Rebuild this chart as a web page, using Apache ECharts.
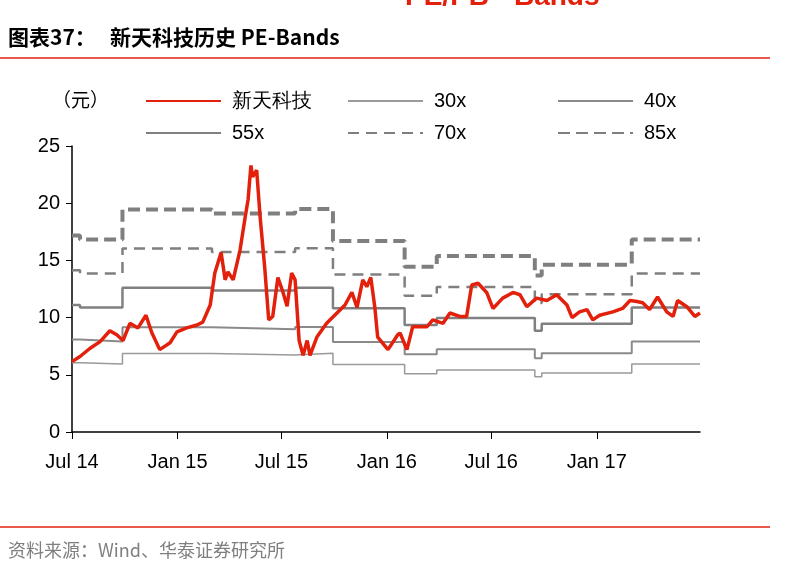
<!DOCTYPE html>
<html lang="zh">
<head>
    <meta charset="UTF-8">
    <title>新天科技历史 PE-Bands</title>
    <script src="https://cdn.jsdelivr.net/npm/echarts@6/dist/echarts.min.js"></script>
    <style>
        body { margin: 0; background: #fff; }
    </style>
</head>
<body>
    <div id="main" style="width: 805px;height:582px;"></div>

    <script type="text/javascript">
        // 股价（元）
        const priceDates = ['2014-07-01', '2014-07-15', '2014-08-01', '2014-08-19', '2014-09-05', '2014-09-17', '2014-09-28', '2014-10-10', '2014-10-24', '2014-11-07', '2014-11-17', '2014-12-01', '2014-12-19', '2014-12-31',
            '2015-01-17', '2015-02-04', '2015-02-14', '2015-02-27', '2015-03-07', '2015-03-18', '2015-03-25', '2015-03-30', '2015-04-08', '2015-04-20', '2015-04-29', '2015-05-04', '2015-05-09', '2015-05-12', '2015-05-19', '2015-05-25',
            '2015-06-02', '2015-06-09', '2015-06-16', '2015-06-25', '2015-07-04', '2015-07-11', '2015-07-19', '2015-07-25', '2015-08-01', '2015-08-08', '2015-08-15', '2015-08-20', '2015-09-01', '2015-09-18', '2015-10-06', '2015-10-20',
            '2015-11-01', '2015-11-10', '2015-11-20', '2015-11-27', '2015-12-04', '2015-12-11', '2015-12-16', '2016-01-03', '2016-01-20', '2016-01-24', '2016-02-05', '2016-02-15', '2016-03-11', '2016-03-21', '2016-04-08', '2016-04-20',
            '2016-05-07', '2016-05-19', '2016-05-28', '2016-06-08', '2016-06-23', '2016-07-04', '2016-07-21', '2016-08-08', '2016-08-20', '2016-09-01', '2016-09-18', '2016-10-06', '2016-10-23', '2016-11-10', '2016-11-19', '2016-12-02',
            '2016-12-15', '2016-12-25', '2017-01-06', '2017-01-29', '2017-02-15', '2017-02-28', '2017-03-12', '2017-03-22', '2017-04-03', '2017-04-17', '2017-05-03', '2017-05-14', '2017-05-22', '2017-06-07', '2017-06-21', '2017-06-30'];
        const priceValues = [6.15, 6.6, 7.3, 7.9, 8.85, 8.5, 8.0, 9.5, 9.1, 10.2, 8.7, 7.2, 7.8, 8.75,
            9.1, 9.35, 9.6, 11.1, 13.9, 15.7, 13.3, 14.0, 13.3, 15.9, 18.8, 20.3, 23.3, 22.3, 22.9, 18.8,
            14.4, 9.8, 10.1, 13.5, 12.2, 11.0, 13.9, 13.3, 8.0, 6.7, 8.0, 6.7, 8.3, 9.5, 10.4, 11.1,
            12.2, 10.9, 13.3, 12.7, 13.5, 10.9, 8.3, 7.2, 8.5, 8.65, 7.2, 9.2, 9.2, 9.8, 9.5, 10.4,
            10.1, 10.1, 12.85, 13.0, 12.2, 10.8, 11.7, 12.2, 12.0, 10.95, 11.7, 11.5, 12.0, 11.1, 10.0, 10.5,
            10.7, 9.8, 10.2, 10.5, 10.8, 11.5, 11.4, 11.3, 10.7, 11.8, 10.5, 10.1, 11.5, 10.95, 10.1, 10.4];

        // 每股收益（用于 PE 带）
        const epsDates = ['2014-07-01', '2014-07-15', '2014-09-27', '2015-03-02', '2015-07-25', '2015-09-29', '2016-02-01', '2016-03-28', '2016-09-15', '2016-09-27', '2017-03-03', '2017-06-30'];
        const epsValues = [0.202, 0.198, 0.229, 0.2247, 0.2294, 0.1965, 0.170, 0.181, 0.161, 0.172, 0.198, 0.198];

        const multiples = [30, 40, 55, 70, 85];
        const bandNames = ['30x', '40x', '55x', '70x', '85x'];
        const tickDates = ['2014-07-01', '2015-01-01', '2015-07-01', '2016-01-01', '2016-07-01', '2017-01-01'];
        const monthNames = ['Jan', 'Feb', 'Mar', 'Apr', 'May', 'Jun', 'Jul', 'Aug', 'Sep', 'Oct', 'Nov', 'Dec'];

        const bandStyles = [
            { color: '#9a9a9a', width: 1.5, type: 'solid' },
            { color: '#8a8a8a', width: 2, type: 'solid' },
            { color: '#808080', width: 2.5, type: 'solid' },
            { color: '#7f7f7f', width: 2.5, type: [11, 7] },
            { color: '#7f7f7f', width: 4, type: [12, 6] }
        ];

        const ts = d => Date.parse(d + 'T00:00:00Z');
        const fontFam = '"Liberation Sans", Arial, sans-serif';
        const myChart = echarts.init(document.getElementById('main'));

        const series = [{
            name: '新天科技',
            type: 'line',
            showSymbol: false,
            symbol: 'none',
            z: 5,
            lineStyle: { color: '#e3200c', width: 3.5 },
            itemStyle: { color: '#e3200c' },
            data: priceDates.map((d, i) => [ts(d), priceValues[i]])
        }];
        multiples.forEach((m, k) => {
            series.push({
                name: bandNames[k],
                type: 'line',
                step: 'end',
                showSymbol: false,
                symbol: 'none',
                lineStyle: bandStyles[k],
                itemStyle: { color: bandStyles[k].color },
                data: epsDates.map((d, i) => [ts(d), +(epsValues[i] * m).toFixed(2)])
            });
        });

        const legendBase = {
            orient: 'vertical',
            top: 86,
            itemWidth: 75,
            itemHeight: 20,
            itemGap: 12,
            itemStyle: { opacity: 0 },
            textStyle: { fontSize: 20, color: '#000', fontFamily: fontFam, padding: [0, 0, 0, 6] }
        };

        const tickVals = tickDates.map(ts);

        option = {
            animation: false,
            backgroundColor: '#fff',
            grid: { left: 72, right: 105, top: 146, bottom: 150 },
            legend: [
                Object.assign({ left: 140, data: ['新天科技', '55x'] }, legendBase),
                Object.assign({ left: 342, data: ['30x', '70x'] }, legendBase),
                Object.assign({ left: 552, data: ['40x', '85x'] }, legendBase)
            ],
            xAxis: {
                type: 'value',
                min: ts('2014-07-01'),
                max: ts('2017-06-30'),
                splitLine: { show: false },
                axisLine: { lineStyle: { color: '#000', width: 1.5 } },
                axisTick: { show: true, length: 7, customValues: tickVals, lineStyle: { color: '#000' } },
                axisLabel: {
                    customValues: tickVals,
                    fontSize: 20, color: '#000', fontFamily: fontFam, margin: 20,
                    formatter: function (v) {
                        const dt = new Date(v);
                        return monthNames[dt.getUTCMonth()] + ' ' + String(dt.getUTCFullYear()).slice(2);
                    }
                }
            },
            yAxis: {
                type: 'value',
                min: 0, max: 25, interval: 5,
                splitLine: { show: false },
                axisLine: { show: true, lineStyle: { color: '#000', width: 1.5 } },
                axisTick: { show: true, length: 6, lineStyle: { color: '#000' } },
                axisLabel: { fontSize: 20, color: '#000', fontFamily: fontFam, margin: 12 }
            },
            graphic: [
                { type: 'text', left: 405, top: -17, style: { text: 'PE/PB - Bands', fontSize: 28, fontWeight: 'bold', fill: '#e3200c', fontFamily: fontFam } },
                { type: 'text', left: 8, top: 27, style: { text: '图表37：   新天科技历史 PE-Bands', fontSize: 21, fontWeight: 'bold', fill: '#000', fontFamily: '"Noto Sans CJK SC", sans-serif' } },
                { type: 'line', shape: { x1: 0, y1: 58, x2: 770, y2: 58 }, style: { stroke: '#e3200c', lineWidth: 1.5 } },
                { type: 'text', left: 52, top: 90, style: { text: '（元）', fontSize: 19, fill: '#000', fontFamily: '"Noto Sans CJK SC", sans-serif' } },
                { type: 'line', shape: { x1: 0, y1: 527, x2: 770, y2: 527 }, style: { stroke: '#e3200c', lineWidth: 1.5 } },
                { type: 'text', left: 8, top: 541, style: { text: '资料来源：Wind、华泰证券研究所', fontSize: 18, fill: '#7f7f7f', fontFamily: '"Noto Sans CJK SC", sans-serif' } }
            ],
            series: series
        };

        myChart.setOption(option);
    </script>
</body>
</html>
